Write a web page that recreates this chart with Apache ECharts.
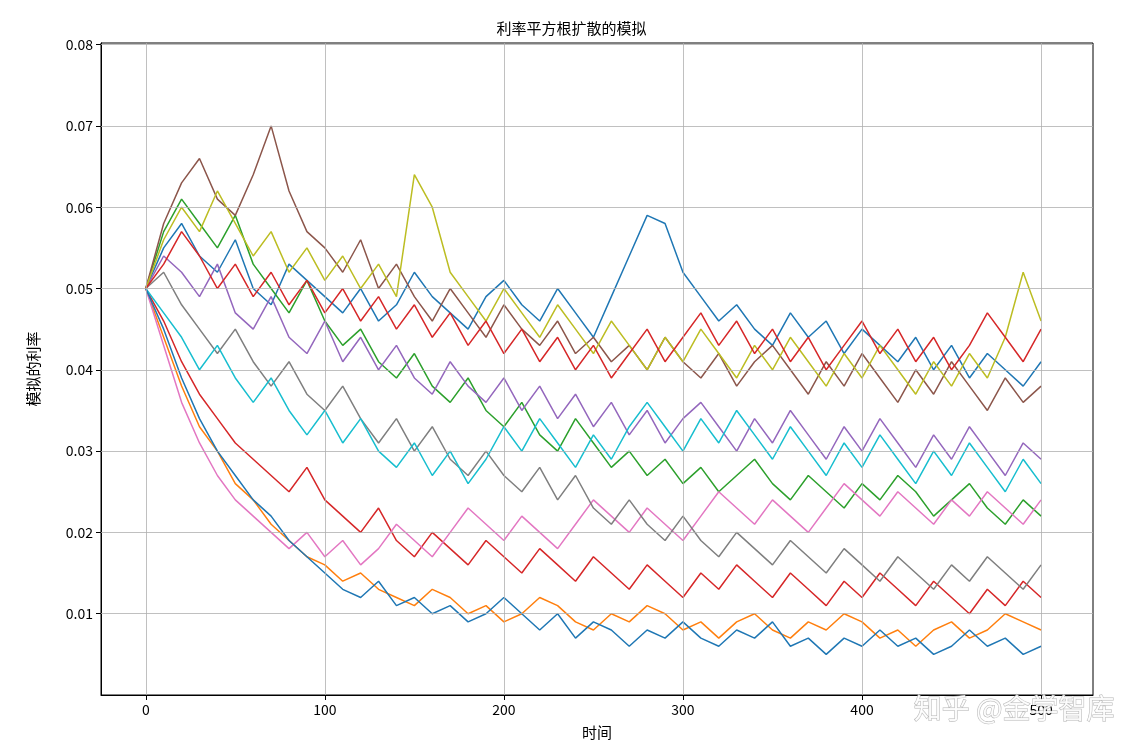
<!DOCTYPE html>
<html><head><meta charset="utf-8">
<script src="https://cdn.jsdelivr.net/npm/echarts@6/dist/echarts.min.js"></script>
<style>html,body{margin:0;background:#fff}#c{width:1143px;height:751px}</style>
</head><body><div id="c"></div>
<script>
const STEP = 10;
const xTicks = [0,100,200,300,400,500];
const yTicks = [0.01,0.02,0.03,0.04,0.05,0.06,0.07,0.08];
const path1 = [0.050,0.055,0.058,0.054,0.052,0.056,0.050,0.048,0.053,0.051, 0.049,0.047,0.050,0.046,0.048,0.052,0.049,0.047,0.045,0.049, 0.051,0.048,0.046,0.050,0.047,0.044,0.049,0.054,0.059,0.058, 0.052,0.049,0.046,0.048,0.045,0.043,0.047,0.044,0.046,0.042, 0.045,0.043,0.041,0.044,0.040,0.043,0.039,0.042,0.040,0.038,0.041];
const path2 = [0.050,0.044,0.038,0.033,0.030,0.026,0.024,0.021,0.019,0.017, 0.016,0.014,0.015,0.013,0.012,0.011,0.013,0.012,0.010,0.011, 0.009,0.010,0.012,0.011,0.009,0.008,0.010,0.009,0.011,0.010, 0.008,0.009,0.007,0.009,0.010,0.008,0.007,0.009,0.008,0.010, 0.009,0.007,0.008,0.006,0.008,0.009,0.007,0.008,0.010,0.009,0.008];
const path3 = [0.050,0.057,0.061,0.058,0.055,0.059,0.053,0.050,0.047,0.051, 0.046,0.043,0.045,0.041,0.039,0.042,0.038,0.036,0.039,0.035, 0.033,0.036,0.032,0.030,0.034,0.031,0.028,0.030,0.027,0.029, 0.026,0.028,0.025,0.027,0.029,0.026,0.024,0.027,0.025,0.023, 0.026,0.024,0.027,0.025,0.022,0.024,0.026,0.023,0.021,0.024,0.022];
const path4 = [0.050,0.046,0.041,0.037,0.034,0.031,0.029,0.027,0.025,0.028, 0.024,0.022,0.020,0.023,0.019,0.017,0.020,0.018,0.016,0.019, 0.017,0.015,0.018,0.016,0.014,0.017,0.015,0.013,0.016,0.014, 0.012,0.015,0.013,0.016,0.014,0.012,0.015,0.013,0.011,0.014, 0.012,0.015,0.013,0.011,0.014,0.012,0.010,0.013,0.011,0.014,0.012];
const path5 = [0.050,0.054,0.052,0.049,0.053,0.047,0.045,0.049,0.044,0.042, 0.046,0.041,0.044,0.040,0.043,0.039,0.037,0.041,0.038,0.036, 0.039,0.035,0.038,0.034,0.037,0.033,0.036,0.032,0.035,0.031, 0.034,0.036,0.033,0.030,0.034,0.031,0.035,0.032,0.029,0.033, 0.030,0.034,0.031,0.028,0.032,0.029,0.033,0.030,0.027,0.031,0.029];
const path6 = [0.050,0.058,0.063,0.066,0.061,0.059,0.064,0.070,0.062,0.057, 0.055,0.052,0.056,0.050,0.053,0.049,0.046,0.050,0.047,0.044, 0.048,0.045,0.043,0.046,0.042,0.044,0.041,0.043,0.040,0.044, 0.041,0.039,0.042,0.038,0.041,0.043,0.040,0.037,0.041,0.038, 0.042,0.039,0.036,0.040,0.037,0.041,0.038,0.035,0.039,0.036,0.038];
const path7 = [0.050,0.043,0.036,0.031,0.027,0.024,0.022,0.020,0.018,0.020, 0.017,0.019,0.016,0.018,0.021,0.019,0.017,0.020,0.023,0.021, 0.019,0.022,0.020,0.018,0.021,0.024,0.022,0.020,0.023,0.021, 0.019,0.022,0.025,0.023,0.021,0.024,0.022,0.020,0.023,0.026, 0.024,0.022,0.025,0.023,0.021,0.024,0.022,0.025,0.023,0.021,0.024];
const path8 = [0.050,0.052,0.048,0.045,0.042,0.045,0.041,0.038,0.041,0.037, 0.035,0.038,0.034,0.031,0.034,0.030,0.033,0.029,0.027,0.030, 0.027,0.025,0.028,0.024,0.027,0.023,0.021,0.024,0.021,0.019, 0.022,0.019,0.017,0.020,0.018,0.016,0.019,0.017,0.015,0.018, 0.016,0.014,0.017,0.015,0.013,0.016,0.014,0.017,0.015,0.013,0.016];
const path9 = [0.050,0.056,0.060,0.057,0.062,0.058,0.054,0.057,0.052,0.055, 0.051,0.054,0.050,0.053,0.049,0.064,0.060,0.052,0.049,0.046, 0.050,0.047,0.044,0.048,0.045,0.042,0.046,0.043,0.040,0.044, 0.041,0.045,0.042,0.039,0.043,0.040,0.044,0.041,0.038,0.042, 0.039,0.043,0.040,0.037,0.041,0.038,0.042,0.039,0.044,0.052,0.046];
const path10 = [0.050,0.047,0.044,0.040,0.043,0.039,0.036,0.039,0.035,0.032, 0.035,0.031,0.034,0.030,0.028,0.031,0.027,0.030,0.026,0.029, 0.033,0.030,0.034,0.031,0.028,0.032,0.029,0.033,0.036,0.033, 0.030,0.034,0.031,0.035,0.032,0.029,0.033,0.030,0.027,0.031, 0.028,0.032,0.029,0.026,0.030,0.027,0.031,0.028,0.025,0.029,0.026];
const path11 = [0.050,0.045,0.039,0.034,0.030,0.027,0.024,0.022,0.019,0.017, 0.015,0.013,0.012,0.014,0.011,0.012,0.010,0.011,0.009,0.010, 0.012,0.010,0.008,0.010,0.007,0.009,0.008,0.006,0.008,0.007, 0.009,0.007,0.006,0.008,0.007,0.009,0.006,0.007,0.005,0.007, 0.006,0.008,0.006,0.007,0.005,0.006,0.008,0.006,0.007,0.005,0.006];
const path12 = [0.050,0.053,0.057,0.054,0.050,0.053,0.049,0.052,0.048,0.051, 0.047,0.050,0.046,0.049,0.045,0.048,0.044,0.047,0.043,0.046, 0.042,0.045,0.041,0.044,0.040,0.043,0.039,0.042,0.045,0.041, 0.044,0.047,0.043,0.046,0.042,0.045,0.041,0.044,0.040,0.043, 0.046,0.042,0.045,0.041,0.044,0.040,0.043,0.047,0.044,0.041,0.045];
const paths = [path1,path2,path3,path4,path5,path6,path7,path8,path9,path10,path11,path12];
const colors = ['#1f77b4','#ff7f0e','#2ca02c','#d62728','#9467bd','#8c564b','#e377c2','#7f7f7f','#bcbd22','#17becf','#1f77b4','#d62728'];

const font = '"Noto Sans CJK SC", "DejaVu Sans", sans-serif';
const series = paths.map((p,i)=>({
  type:'line', showSymbol:false, symbol:'none', silent:true,
  data:p.map((v,j)=>[j*STEP,v]), lineStyle:{width:1.5,color:colors[i]}, color:colors[i], z:3
}));
series.push({
  type:'line', data:[], silent:true, z:1,
  markLine:{symbol:'none', silent:true, label:{show:false},
    lineStyle:{color:'#b0b0b0',type:'solid',width:0.8},
    data:[...xTicks.map(x=>({xAxis:x})), ...yTicks.map(y=>({yAxis:y}))]}
});
const chart = echarts.init(document.getElementById('c'));
chart.setOption({
  animation:false,
  title:{text:'利率平方根扩散的模拟', left:'center', top:16, textStyle:{fontFamily:font,fontSize:15,fontWeight:'normal',color:'#000'}},
  grid:{left:101, right:50, top:43, bottom:56, show:true, borderColor:'#000', borderWidth:1, backgroundColor:'transparent'},
  xAxis:{type:'value', min:-25, max:529, splitLine:{show:false},
    axisLine:{onZero:false,lineStyle:{color:'#000'}}, axisTick:{show:true,customValues:xTicks,lineStyle:{color:'#000'}},
    axisLabel:{customValues:xTicks,color:'#000',fontSize:14,fontFamily:font},
    name:'时间', nameLocation:'middle', nameGap:30, nameTextStyle:{fontFamily:font,fontSize:15,color:'#000'}},
  yAxis:{type:'value', min:0, max:0.0802, splitLine:{show:false},
    axisLine:{show:true,onZero:false,lineStyle:{color:'#000'}}, axisTick:{show:true,customValues:yTicks,lineStyle:{color:'#000'}},
    axisLabel:{customValues:yTicks,color:'#000',fontSize:14,fontFamily:font,formatter:v=>v.toFixed(2)},
    name:'模拟的利率', nameLocation:'middle', nameGap:60, nameTextStyle:{fontFamily:font,fontSize:15,color:'#000'}},
  series:series,
  graphic:[{type:'text', right:28, bottom:28, z:100, style:{text:'知乎 @金学智库', fontFamily:font, fontSize:28, fill:'rgba(255,255,255,0.85)', stroke:'rgba(150,150,150,0.7)', lineWidth:1}}]
});
</script></body></html>
